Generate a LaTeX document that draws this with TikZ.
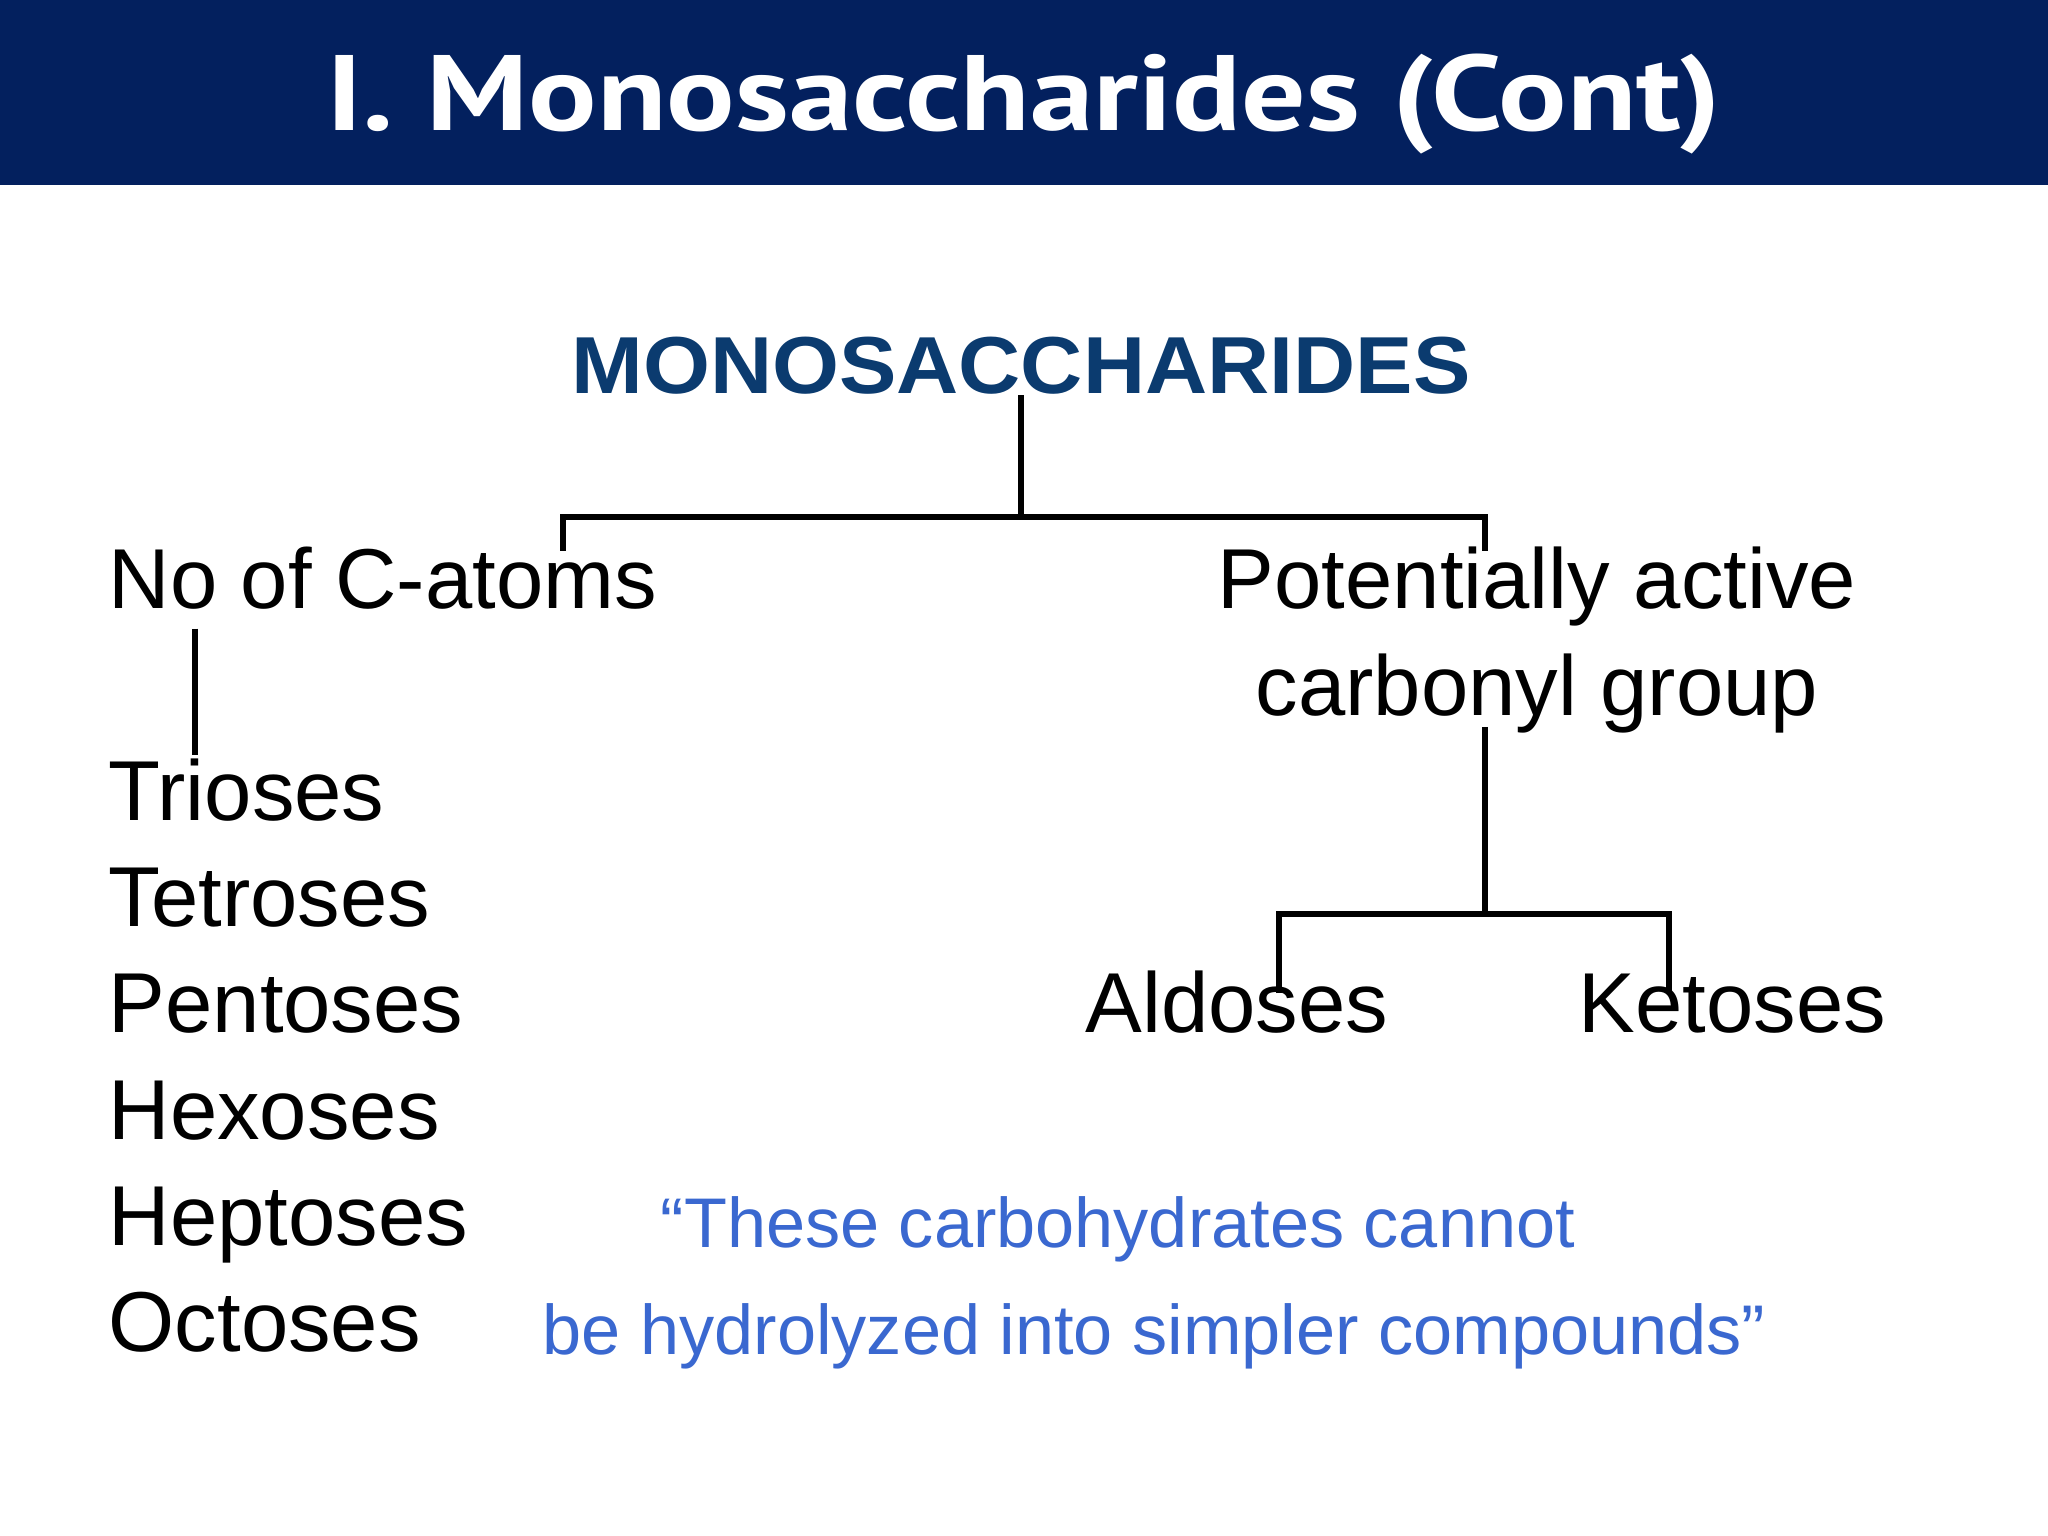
\documentclass[tikz,border=0pt]{standalone}
\usepackage{fontspec}
\setmainfont{Liberation Sans}
\newfontfamily\titlefont{PT Sans}
\usepackage{graphicx}
\usepackage{tikz}
\usetikzlibrary{positioning, calc}
\definecolor{hdrblue}{HTML}{03205E}
\definecolor{monoblue}{HTML}{0B3B6F}
\definecolor{quoteblue}{HTML}{3A68D0}
\tikzset{
  title_t/.style = {inner sep=0pt, white, anchor=base, font=\titlefont\bfseries\fontsize{30.5}{36}\selectfont},
  head_t/.style = {inner sep=0pt, monoblue, font=\fontsize{23}{27}\selectfont\bfseries},
  label_t/.style = {inner sep=0pt, anchor=base west, font=\fontsize{24.2}{30.5}\selectfont},
  quote_t/.style = {inner sep=0pt, quoteblue, anchor=base west, font=\fontsize{20}{24}\selectfont},
  branch/.style = {line width=1.5pt, black}
}

\begin{document}
\begin{tikzpicture}
  \useasboundingbox (0,0) rectangle (20.48,-15.36);
  \fill[white] (0,0) rectangle (20.48,-15.36);
  % header band
  \fill[hdrblue] (0,0) rectangle (20.48,-1.85);
  \node[title_t] (title) at (10.24,-1.31) {\scalebox{1.19}[1]{I. Monosaccharides (Cont)}};

  % top of the tree
  \node[head_t, anchor=base] (mono) at (10.21,-3.94) {\scalebox{1.065}[1]{MONOSACCHARIDES}};
  \node[label_t] (catoms) at (1.08,-6.09) {No of C-atoms};
  \node[label_t, anchor=north, align=center] (pot) at (15.37,-5.46) {Potentially active\\ carbonyl group};

  \coordinate (jA) at (10.21,-5.17);
  \coordinate (tipL) at (5.63,-5.51);
  \coordinate (tipR) at (14.85,-5.51);
  \draw[branch] (mono.south -| jA) -- (jA);
  \draw[branch] (tipL) |- (jA) -| (tipR);

  % number of carbons
  \foreach \n/\t [count=\i] in {tri/Trioses, tet/Tetroses, pen/Pentoses,
      hex/Hexoses, hep/Heptoses, oct/Octoses}
    \node[label_t] (\n) at (1.08,{-8.20-1.064*(\i-1)}) {\t};
  \draw[branch] ([xshift=0.87cm,yshift=-0.18cm]catoms.south west)
    -- ([xshift=0.87cm,yshift=0.03cm]tri.north west);

  % carbonyl group
  \node[label_t] (ald) at (10.85,-10.32) {Aldoses};
  \node[label_t] (ket) at (15.78,-10.32) {Ketoses};
  \coordinate (jB) at (14.85,-9.14);
  \coordinate (tipA) at (12.79,-9.93);
  \coordinate (tipK) at (16.69,-9.93);
  \draw[branch] ([yshift=0.07cm]pot.south -| jB) -- (jB);
  \draw[branch] (tipA) |- (jB) -| (tipK);

  % definition
  \node[quote_t] (q1) at (6.60,-12.47) {``These carbohydrates cannot};
  \node[quote_t] (q2) at (5.42,-13.54) {be hydrolyzed into simpler compounds''};
\end{tikzpicture}
\end{document}
